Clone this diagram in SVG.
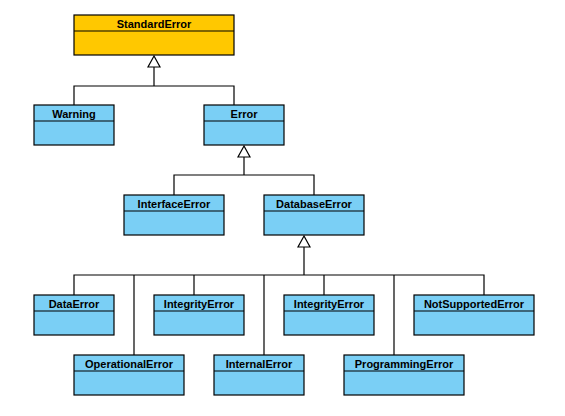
<svg xmlns="http://www.w3.org/2000/svg" width="565" height="416" viewBox="0 0 565 416">
<defs>
<style>
.box{fill:#7ACFF5;stroke:#000;stroke-width:1.2}
.root{fill:#FFC800;stroke:#000;stroke-width:1.2}
.div{stroke:#000;stroke-width:1.2}
.lbl{font-family:"Liberation Sans",Arial,sans-serif;font-size:11px;font-weight:bold;fill:#000;text-anchor:middle}
.conn{fill:none;stroke:#000;stroke-width:1.2}
.tri{fill:#fff;stroke:#000;stroke-width:1.2}
</style>
</defs>
<rect width="565" height="416" fill="#fff"/>
<g id="connectors">
<polyline class="conn" points="154,67 154,86"/>
<polyline class="conn" points="74,105 74,86 234,86 234,105"/>
<polygon class="tri" points="154,56 148,67 160,67"/>
<polyline class="conn" points="244,157 244,175"/>
<polyline class="conn" points="174,195 174,175 314,175 314,195"/>
<polygon class="tri" points="244,146 238,157 250,157"/>
<polyline class="conn" points="304,247 304,275"/>
<polyline class="conn" points="74,295 74,275 484,275 484,295"/>
<line class="conn" x1="134" y1="275" x2="134" y2="355"/>
<line class="conn" x1="194" y1="275" x2="194" y2="295"/>
<line class="conn" x1="264" y1="275" x2="264" y2="355"/>
<line class="conn" x1="324" y1="275" x2="324" y2="295"/>
<line class="conn" x1="394" y1="275" x2="394" y2="355"/>
<polygon class="tri" points="304,236 298,247 310,247"/>
</g>
<g id="StandardError">
<rect class="root" x="74" y="15" width="160" height="40"/>
<line class="div" x1="74" y1="31" x2="234" y2="31"/>
<text class="lbl" x="154" y="28">StandardError</text>
</g>
<g id="Warning">
<rect class="box" x="34" y="105" width="80" height="40"/>
<line class="div" x1="34" y1="121" x2="114" y2="121"/>
<text class="lbl" x="74" y="118">Warning</text>
</g>
<g id="Error">
<rect class="box" x="204" y="105" width="80" height="40"/>
<line class="div" x1="204" y1="121" x2="284" y2="121"/>
<text class="lbl" x="244" y="118">Error</text>
</g>
<g id="InterfaceError">
<rect class="box" x="124" y="195" width="100" height="40"/>
<line class="div" x1="124" y1="211" x2="224" y2="211"/>
<text class="lbl" x="174" y="208">InterfaceError</text>
</g>
<g id="DatabaseError">
<rect class="box" x="264" y="195" width="100" height="40"/>
<line class="div" x1="264" y1="211" x2="364" y2="211"/>
<text class="lbl" x="314" y="208">DatabaseError</text>
</g>
<g id="DataError">
<rect class="box" x="34" y="295" width="80" height="40"/>
<line class="div" x1="34" y1="311" x2="114" y2="311"/>
<text class="lbl" x="74" y="308">DataError</text>
</g>
<g id="IntegrityError1">
<rect class="box" x="154" y="295" width="90" height="40"/>
<line class="div" x1="154" y1="311" x2="244" y2="311"/>
<text class="lbl" x="199" y="308">IntegrityError</text>
</g>
<g id="IntegrityError2">
<rect class="box" x="284" y="295" width="90" height="40"/>
<line class="div" x1="284" y1="311" x2="374" y2="311"/>
<text class="lbl" x="329" y="308">IntegrityError</text>
</g>
<g id="NotSupportedError">
<rect class="box" x="414" y="295" width="120" height="40"/>
<line class="div" x1="414" y1="311" x2="534" y2="311"/>
<text class="lbl" x="474" y="308">NotSupportedError</text>
</g>
<g id="OperationalError">
<rect class="box" x="74" y="355" width="110" height="40"/>
<line class="div" x1="74" y1="371" x2="184" y2="371"/>
<text class="lbl" x="129" y="368">OperationalError</text>
</g>
<g id="InternalError">
<rect class="box" x="214" y="355" width="90" height="40"/>
<line class="div" x1="214" y1="371" x2="304" y2="371"/>
<text class="lbl" x="259" y="368">InternalError</text>
</g>
<g id="ProgrammingError">
<rect class="box" x="344" y="355" width="120" height="40"/>
<line class="div" x1="344" y1="371" x2="464" y2="371"/>
<text class="lbl" x="404" y="368">ProgrammingError</text>
</g>
</svg>
